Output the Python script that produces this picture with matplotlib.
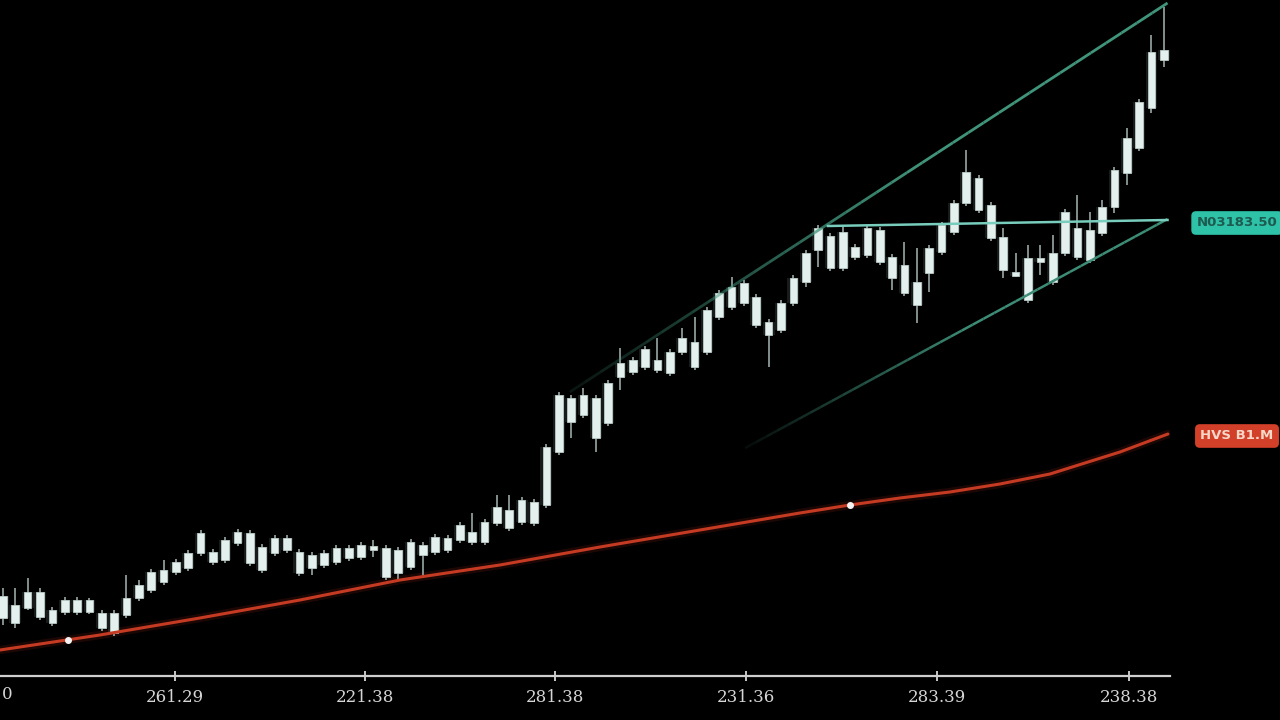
import numpy as np
import matplotlib
matplotlib.use('Agg')
import matplotlib.pyplot as plt
from matplotlib.collections import LineCollection

# candle data, one entry per session
opens = [205.8, 207.1, 206.8, 208.4, 206.6, 206.4, 206.4, 206.4, 206.3, 206.3,
         206.1, 207.8, 208.6, 209.4, 210.4, 210.8, 212.3, 212.4, 211.6, 213.3,
         214.3, 212.9, 212.3, 212.6, 212.4, 210.8, 211.1, 211.4, 211.8, 211.9,
         212.6, 212.8, 210.3, 210.9, 212.1, 212.4, 212.6, 213.6, 214.4, 213.4,
         215.3, 216.6, 215.4, 217.4, 217.1, 222.4, 225.4, 226.1, 227.8, 225.3,
         229.9, 230.4, 230.9, 231.6, 230.3, 232.4, 233.4, 232.4, 235.9, 236.9,
         237.3, 237.9, 235.4, 234.6, 237.3, 239.4, 242.6, 244.0, 240.8, 242.9,
         242.1, 244.6, 241.9, 241.1, 239.4, 240.3, 242.4, 244.4, 247.3, 249.8,
         247.1, 243.9, 240.4, 241.8, 241.4, 242.3, 242.3, 244.8, 244.6, 244.3,
         246.9, 250.3, 252.8, 256.8, 261.6]
closes = [208.0, 205.3, 208.4, 205.9, 205.3, 207.6, 207.6, 207.6, 204.8, 204.3,
          207.8, 209.1, 210.4, 210.6, 211.4, 212.3, 214.3, 211.4, 213.6, 214.4,
          211.3, 210.6, 213.8, 213.8, 210.3, 212.1, 212.3, 212.8, 212.8, 213.1,
          213.0, 209.9, 212.6, 213.4, 213.1, 213.9, 213.8, 215.1, 213.4, 215.4,
          216.9, 214.8, 217.6, 215.3, 222.9, 228.1, 227.8, 228.1, 223.8, 229.3,
          231.3, 231.6, 232.7, 230.6, 232.4, 233.8, 230.9, 236.6, 238.3, 238.9,
          239.3, 235.1, 234.1, 237.3, 239.8, 242.3, 244.8, 240.8, 244.4, 241.9,
          244.8, 241.4, 239.8, 238.3, 237.1, 242.8, 245.1, 247.3, 250.4, 246.6,
          243.8, 240.6, 240.0, 237.6, 241.8, 239.4, 246.4, 241.9, 241.6, 246.9,
          250.6, 253.8, 257.4, 262.4, 262.6]
highs = [208.8, 208.8, 209.8, 208.8, 206.9, 207.9, 207.9, 207.8, 206.6, 206.6,
         210.1, 209.6, 210.7, 211.6, 211.7, 212.6, 214.6, 212.7, 213.9, 214.7,
         214.6, 213.2, 214.1, 214.1, 212.7, 212.4, 212.6, 213.1, 213.1, 213.4,
         213.6, 213.1, 212.9, 213.7, 213.4, 214.2, 214.1, 215.4, 216.3, 215.7,
         218.1, 218.1, 217.9, 217.7, 223.2, 228.4, 228.1, 228.8, 228.1, 229.6,
         232.8, 231.9, 233.0, 233.8, 232.7, 234.8, 235.9, 236.9, 238.6, 239.9,
         239.6, 238.2, 235.7, 237.6, 240.1, 242.6, 245.1, 244.3, 245.1, 243.2,
         245.1, 244.9, 242.2, 243.4, 242.8, 243.1, 245.4, 247.6, 252.6, 250.1,
         247.4, 244.8, 242.3, 243.1, 243.1, 244.1, 246.7, 248.1, 246.4, 247.6,
         250.9, 254.8, 257.7, 264.1, 266.9]
lows = [205.1, 204.8, 206.6, 205.6, 205.0, 206.1, 206.1, 206.2, 204.5, 204.0,
        205.8, 207.5, 208.3, 209.1, 210.1, 210.5, 212.0, 211.1, 211.3, 213.0,
        211.0, 210.3, 212.0, 212.3, 210.0, 210.1, 210.8, 211.1, 211.5, 211.6,
        211.9, 209.6, 209.6, 210.6, 209.8, 212.1, 212.3, 213.3, 213.1, 213.1,
        215.0, 214.5, 215.1, 215.0, 216.8, 222.1, 223.8, 225.8, 222.4, 225.0,
        228.6, 230.1, 230.6, 230.3, 230.0, 232.1, 230.6, 232.1, 235.6, 236.6,
        237.0, 234.8, 230.9, 234.3, 237.0, 238.9, 240.9, 240.5, 240.5, 241.6,
        241.8, 241.1, 238.6, 238.0, 235.3, 238.4, 242.1, 244.1, 247.0, 246.3,
        243.5, 239.8, 239.9, 237.3, 240.1, 239.1, 242.0, 241.6, 241.3, 244.0,
        246.3, 249.1, 252.5, 256.3, 260.9]

# slow moving average (red), sampled along the session axis
ma_idx = [-0.24, 7.85, 15.95, 24.05, 32.15, 40.24, 48.34, 56.44, 64.53, 68.58,
          72.63, 76.68, 80.73, 84.78, 87.61, 90.45, 94.33]
ma_val = [202.6, 204.1, 205.8, 207.6, 209.6, 211.1, 212.9, 214.6, 216.3, 217.1,
          217.8, 218.4, 219.2, 220.2, 221.3, 222.4, 224.2]
ma_dots = [5.3, 68.6]

# channel / trend lines: (start index, start price, end index, end price)
upper_line = (45.9, 228.4, 94.3, 267.3)
lower_line = (60.1, 222.8, 94.3, 245.7)
level_line = (66.8, 245.0, 94.3, 245.6)

tick_pos = [13.9, 29.3, 44.7, 60.2, 75.6, 91.2]
tick_labels = ['261.29', '221.38', '281.38', '231.36', '283.39', '238.38']

label_top = 'N03183.50'
label_bottom = 'HVS B1.M'

bg = '#000000'
fig = plt.figure(figsize=(12.8, 7.2), dpi=100, facecolor=bg)
ax = fig.add_axes([0.0, 44 / 720, 1170 / 1280, 676 / 720])
ax.set_facecolor(bg)

x = np.arange(len(opens))
o = np.array(opens)
c = np.array(closes)
body_lo = np.minimum(o, c)
body_h = np.maximum(np.abs(c - o), 0.35)

# wicks
ax.vlines(x, lows, highs, color='#8d9a98', lw=1.3, zorder=2)
# soft glow behind bodies
ax.bar(x, body_h, bottom=body_lo, width=0.95, color='#cfe6e1', alpha=0.12, zorder=3)
ax.bar(x, body_h, bottom=body_lo, width=0.62, color='#e4f0ed', edgecolor='#b9ccc8',
       lw=0.6, zorder=4)

# red moving average with glow
ax.plot(ma_idx, ma_val, color='#c0321e', lw=6, alpha=0.15, solid_capstyle='round', zorder=1)
ax.plot(ma_idx, ma_val, color='#c43a22', lw=2.2, solid_capstyle='round', zorder=5)
ax.plot(ma_dots, np.interp(ma_dots, ma_idx, ma_val), 'o', ms=4, color='#f4f4f4', zorder=6)

# upper channel line fades in from the left
xs = np.linspace(upper_line[0], upper_line[2], 40)
ys = np.linspace(upper_line[1], upper_line[3], 40)
segs = np.stack([np.column_stack([xs[:-1], ys[:-1]]), np.column_stack([xs[1:], ys[1:]])], axis=1)
alphas = np.clip(np.linspace(0.15, 1.6, 39), 0, 1)
cols = [(0.25, 0.58, 0.48, a) for a in alphas]
ax.add_collection(LineCollection(segs, colors=cols, lw=2.0, zorder=5))

xs = np.linspace(lower_line[0], lower_line[2], 40)
ys = np.linspace(lower_line[1], lower_line[3], 40)
segs = np.stack([np.column_stack([xs[:-1], ys[:-1]]), np.column_stack([xs[1:], ys[1:]])], axis=1)
alphas = np.clip(np.linspace(0.1, 1.8, 39), 0, 1)
cols = [(0.24, 0.55, 0.46, a) for a in alphas]
ax.add_collection(LineCollection(segs, colors=cols, lw=1.8, zorder=5))

ax.plot([level_line[0], level_line[2]], [level_line[1], level_line[3]],
        color='#78cdbd', lw=1.8, zorder=5)

ax.set_xlim(-0.24, 94.5)
ax.set_ylim(200.0, 267.6)

for s in ['top', 'right', 'left']:
    ax.spines[s].set_visible(False)
ax.spines['bottom'].set_color('#cfcfcf')
ax.spines['bottom'].set_linewidth(1.6)
ax.set_yticks([])
ax.set_xticks(tick_pos)
ax.set_xticklabels(tick_labels, family='DejaVu Serif')
ax.tick_params(axis='x', colors='#d6d6d6', labelsize=12, direction='inout', length=7,
               width=1.3, pad=6)
ax.text(0.006, -0.027, '0', transform=ax.transAxes, color='#d6d6d6', fontsize=12,
        family='DejaVu Serif', ha='center', va='center')

# price tags on the right
fig.text(1237 / 1280, 1 - 223 / 720, label_top, ha='center', va='center', fontsize=9.5,
         color='#1d5a50', weight='bold',
         bbox=dict(boxstyle='round,pad=0.35,rounding_size=0.3', fc='#2ec2a8', ec='#2ec2a8'))
fig.text(1237 / 1280, 1 - 436 / 720, label_bottom, ha='center', va='center', fontsize=9.5,
         color='#f6d8c8', weight='bold',
         bbox=dict(boxstyle='round,pad=0.35,rounding_size=0.3', fc='#d2402a', ec='#d2402a'))

fig.savefig('out.png', dpi=100, facecolor=bg)
